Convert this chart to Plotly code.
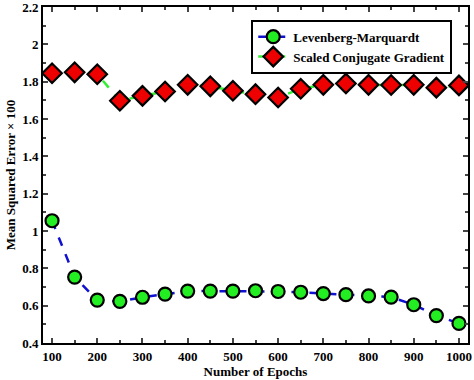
import plotly.graph_objects as go

epochs = [100, 150, 200, 250, 300, 350, 400, 450, 500, 550, 600, 650, 700, 750, 800, 850, 900, 950, 1000]
lm_mse = [1.055, 0.753, 0.630, 0.623, 0.645, 0.662, 0.678, 0.678, 0.678, 0.680, 0.676, 0.672, 0.665, 0.659, 0.652, 0.646, 0.605, 0.547, 0.505]
scg_mse = [1.845, 1.850, 1.840, 1.698, 1.724, 1.747, 1.783, 1.775, 1.751, 1.733, 1.715, 1.762, 1.783, 1.790, 1.783, 1.782, 1.783, 1.768, 1.780]

font_family = "Liberation Serif, Times New Roman, serif"

fig = go.Figure()
fig.add_trace(go.Scatter(
    x=epochs, y=lm_mse, mode="lines+markers", name="<b>Levenberg-Marquardt</b>",
    line=dict(color="#1010d0", width=2.5, dash="dash"),
    marker=dict(symbol="circle", size=13, color="#22ee22", line=dict(color="black", width=2.2)),
))
fig.add_trace(go.Scatter(
    x=epochs, y=scg_mse, mode="lines+markers", name="<b>Scaled Conjugate Gradient</b>",
    line=dict(color="#33ee33", width=2.5, dash="dash"),
    marker=dict(symbol="diamond", size=15, color="#ee0000", line=dict(color="black", width=2.2)),
))

fig.update_layout(
    width=474, height=380,
    margin=dict(l=43, r=6, t=7, b=37, autoexpand=False),
    paper_bgcolor="white", plot_bgcolor="white",
    font=dict(family=font_family, size=13, color="black"),
    showlegend=True,
    legend=dict(x=0.49, y=0.962, xanchor="left", yanchor="top",
                bordercolor="black", borderwidth=2, bgcolor="white",
                font=dict(family=font_family, size=13, color="black"),
                tracegroupgap=0, itemwidth=30),
)
fig.update_xaxes(
    range=[80, 1020], dtick=100, tick0=0, ticks="inside", ticklen=5, tickwidth=1.5,
    showline=True, linecolor="black", linewidth=2, mirror="ticks",
    showgrid=False, zeroline=False, automargin=False, ticklabeloverflow="allow",
    minor=dict(ticks="inside", dtick=50, tick0=0, ticklen=3, tickwidth=1.5, showgrid=False),
    tickfont=dict(family=font_family, size=13, color="black", weight="bold"),
    title=dict(text="<b>Number of Epochs</b>", standoff=2, font=dict(family=font_family, size=13)),
)
fig.update_yaxes(
    range=[0.4, 2.2], dtick=0.2, tick0=0, ticks="inside", ticklen=5, tickwidth=1.5,
    showline=True, linecolor="black", linewidth=2, mirror="ticks",
    showgrid=False, zeroline=False, automargin=False, ticklabeloverflow="allow",
    minor=dict(ticks="inside", dtick=0.1, ticklen=3, tickwidth=1.5, showgrid=False),
    tickfont=dict(family=font_family, size=13, color="black", weight="bold"),
    title=dict(text="<b>Mean Squared Error × 100</b>", standoff=4, font=dict(family=font_family, size=13)),
)

fig.write_html("out.html", config={"displayModeBar": False},
               post_script="document.body.style.margin='0';")
